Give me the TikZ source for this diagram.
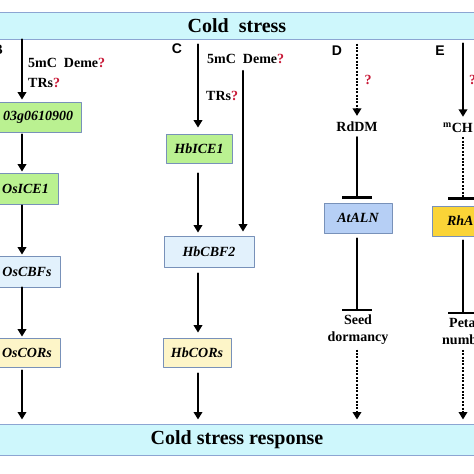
\documentclass[tikz,border=0pt]{standalone}
\usepackage{fontspec}
\setmainfont{Liberation Serif}
\setsansfont{Liberation Sans}
\usetikzlibrary{arrows.meta}
\definecolor{bannercyan}{RGB}{206,247,252}
\definecolor{bannerline}{RGB}{140,165,210}
\definecolor{boxline}{RGB}{120,145,185}
\definecolor{leafgreen}{RGB}{186,241,145}
\definecolor{iceblue}{RGB}{226,241,252}
\definecolor{paleyellow}{RGB}{253,245,200}
\definecolor{alnblue}{RGB}{182,207,245}
\definecolor{rhgold}{RGB}{250,212,55}
\definecolor{qred}{RGB}{200,25,55}
\newcommand{\qm}{\textcolor{qred}{?}}
\tikzset{
 banner/.style={fill=bannercyan, draw=bannerline, line width=1pt, minimum width=520pt, font=\fontsize{20}{24}\selectfont\bfseries},
 gene/.style={draw=boxline, line width=0.8pt, inner xsep=0pt, minimum height=30pt, font=\fontsize{14}{17}\selectfont\bfseries\itshape},
 txt/.style={inner sep=0pt, font=\fontsize{14}{17}\selectfont\bfseries},
 panel/.style={inner sep=0pt, font=\fontsize{14}{17}\selectfont\sffamily\bfseries},
 flow/.style={->, line width=2.2pt},
 dotflow/.style={->, line width=2.6pt, line cap=butt, dash pattern=on 2pt off 1.4pt},
 blockline/.style={-{Bar[width=30pt]}, line width=2.2pt},
 dotblock/.style={-{Bar[width=30pt]}, line width=2.6pt, line cap=butt, dash pattern=on 2pt off 1.4pt}
}
\begin{document}
\begin{tikzpicture}[line cap=round,line join=round,>={Triangle[width=8.5pt,length=7.5pt]},x=1pt,y=-1pt]
\useasboundingbox (0,0) rectangle (474,474);
\clip (0,0) rectangle (474,474);
\node[banner, minimum height=27pt] (cold) at (237,25.5) {Cold\ \ stress};
\node[banner, minimum height=31pt] (resp) at (237,439.5) {Cold stress response};
% column positions
\coordinate (xB) at (22,0);
\coordinate (xC) at (198,0);
\coordinate (xD) at (357,0);
\coordinate (xE) at (463,0);
\coordinate (cdeme) at (243,71);
% B
\node[panel] (labB) at (-2,50) {B};
\node[txt, anchor=west] (demeB) at (28,63) {5mC\ \ Deme\qm};
\node[txt, anchor=west] (trsB) at (28,83) {TRs\qm};
\node[gene, fill=leafgreen, minimum width=86pt] (b03) at (38,117) {03g0610900};
\node[gene, fill=leafgreen, minimum width=65pt, minimum height=31pt] (osice) at (25.5,188.5) {OsICE1};
\node[gene, fill=iceblue, minimum width=66pt, minimum height=31pt] (oscbf) at (27,271.5) {OsCBFs};
\node[gene, fill=paleyellow, minimum width=66pt, minimum height=29pt] (oscor) at (27,352.5) {OsCORs};
\draw[flow, shorten >=2pt] (cold.south -| xB) -- (b03.north -| xB);
\draw[flow, shorten <=2pt, shorten >=1pt] (b03.south -| xB) -- (osice.north -| xB);
\draw[flow, shorten <=1pt, shorten >=1pt] (osice.south -| xB) -- (oscbf.north -| xB);
\draw[flow, shorten >=1pt] (oscbf.south -| xB) -- (oscor.north -| xB);
\draw[flow, shorten <=3pt, shorten >=4pt] (oscor.south -| xB) -- (resp.north -| xB);
% C
\node[panel] (labC) at (177,49) {C};
\node[txt, anchor=west] (demeC) at (207,59) {5mC\ \ Deme\qm};
\node[txt, anchor=west] (trsC) at (206,96) {TRs\qm};
\node[gene, fill=leafgreen, minimum width=66pt, minimum height=29pt] (hbice) at (199,148.5) {HbICE1};
\node[gene, fill=iceblue, minimum width=90pt, minimum height=31pt] (hbcbf) at (209,251.5) {HbCBF2};
\node[gene, fill=paleyellow, minimum width=68pt, minimum height=29pt] (hbcor) at (197,352.5) {HbCORs};
\draw[flow, shorten <=5pt, shorten >=6pt] (cold.south -| xC) -- (hbice.north -| xC);
\draw[flow, shorten <=10pt, shorten >=3pt] (hbice.south -| xC) -- (hbcbf.north -| xC);
\draw[flow, shorten <=6pt, shorten >=5pt] (hbcbf.south -| xC) -- (hbcor.north -| xC);
\draw[flow, shorten <=6pt, shorten >=4pt] (hbcor.south -| xC) -- (resp.north -| xC);
\draw[flow, shorten >=4pt] (cdeme) -- (hbcbf.north -| cdeme);
% D
\node[panel] (labD) at (337,51) {D};
\node[txt] (qD) at (368,80) {\qm};
\node[txt] (rddm) at (357,127) {RdDM};
\node[gene, fill=alnblue, minimum width=68pt] (atal) at (358,218) {AtALN};
\node[txt, align=center] (seed) at (358,329.5) {Seed\\dormancy};
\draw[dotflow, shorten <=4pt, shorten >=6pt] (cold.south -| xD) -- (rddm.north -| xD);
\draw[blockline, shorten <=5pt, shorten >=4pt] (rddm.south -| xD) -- (atal.north -| xD);
\draw[blockline, shorten <=5pt, shorten >=3pt] (atal.south -| xD) -- (seed.north -| xD);
\draw[dotflow, shorten <=5pt, shorten >=4pt] (seed.south -| xD) -- (resp.north -| xD);
% E
\node[panel] (labE) at (440,51) {E};
\node[txt, anchor=west] (qE) at (469,80) {\qm};
\node[txt, anchor=west] (mch) at (443,128) {\textsuperscript{m}CH};
\node[gene, fill=rhgold, text width=40pt, align=left, inner xsep=15pt] (rhag) at (467,221) {RhA};
\node[txt, anchor=west, align=left] (petal) at (442,331.5) {\hspace*{7pt}Peta\\numb};
\draw[flow, shorten <=4pt, shorten >=6pt] (cold.south -| xE) -- (mch.north -| xE);
\draw[dotblock, shorten <=4pt, shorten >=6pt] (mch.south -| xE) -- (rhag.north -| xE);
\draw[blockline, shorten <=4pt, shorten >=4pt] (rhag.south -| xE) -- (petal.north -| xE);
\draw[dotflow, shorten <=5pt, shorten >=4pt] (petal.south -| xE) -- (resp.north -| xE);
\end{tikzpicture}
\end{document}
